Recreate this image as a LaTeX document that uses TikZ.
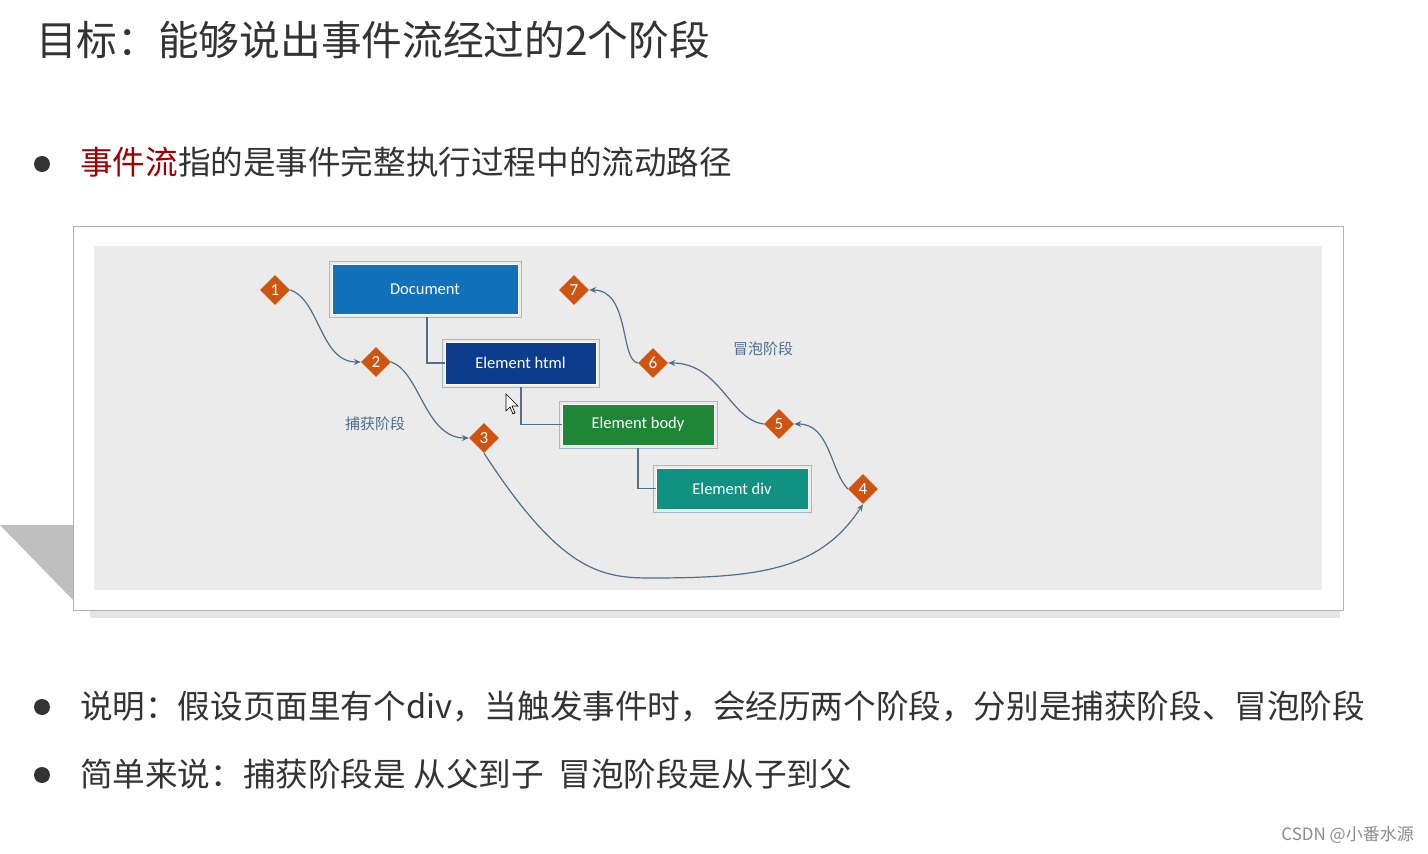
\documentclass[tikz,border=0pt]{standalone}
\usepackage{fontspec}
\setmainfont{Noto Sans CJK SC}
\newfontfamily\lat{Carlito}
\usetikzlibrary{shapes.geometric,arrows.meta}
\definecolor{cDoc}{HTML}{1172B9}
\definecolor{cHtml}{HTML}{0E3C8C}
\definecolor{cBody}{HTML}{1E8636}
\definecolor{cDiv}{HTML}{119182}
\definecolor{cDia}{HTML}{CF5410}
\definecolor{cLine}{HTML}{4F6F8C}
\definecolor{cTxt}{HTML}{333333}
\tikzset{
  box/.style={draw=white,line width=1pt,outer sep=0pt,minimum height=#1,text=white,font=\lat\fontsize{16.5}{18}\selectfont,inner sep=0pt},
  frm/.style={draw=cLine!50,line width=0.6pt},
  dia/.style={diamond,fill=cDia,minimum size=30pt,inner sep=0pt,text=white,font=\lat\fontsize{17}{18}\selectfont},
  flow/.style={draw=cLine,line width=1.2pt,-{Stealth[length=7pt,width=6pt]}},
  tree/.style={draw=cLine,line width=1.5pt},
  bul/.style={anchor=west,font=\fontsize{32.6}{38}\selectfont,text=cTxt,inner sep=0pt},
  lab/.style={font=\fontsize{15}{17}\selectfont,text=cLine}
}
\begin{document}
\begin{tikzpicture}[x=1pt,y=-1pt]
\useasboundingbox (0,0) rectangle (1428,854);
\fill[white] (0,0) rectangle (1428,854);
\node[anchor=west,inner sep=0pt,font=\fontsize{40.7}{46}\selectfont,text=cTxt] (title) at (36,40) {目标：能够说出事件流经过的2个阶段};
\fill[cTxt] (42,164) circle (8);
\node[bul] (b1) at (80,162) {\textcolor[HTML]{A00000}{事件流}指的是事件完整执行过程中的流动路径};
% shadow
\fill[black!25] (0,525) -- (73,525) -- (73,600) -- cycle;
\fill[black!10] (90,610) rectangle (1340,618);
\node[draw=black!30,line width=1pt,fill=white,minimum width=1270pt,minimum height=384pt,inner sep=0pt] (frame) at (708,418) {};
\node[fill=black!8,minimum width=1228pt,minimum height=344pt,inner sep=0pt] (panel) at (708,418) {};
% boxes
\draw[frm] (329,261) rectangle (521,317);
\node[box=50pt,fill=cDoc,minimum width=186pt] (doc) at (425,289) {Document};
\draw[frm] (442,339) rectangle (599,387);
\node[box=42pt,fill=cHtml,minimum width=151pt] (html) at (520.5,363) {Element html};
\draw[frm] (559,401) rectangle (717,448);
\node[box=41pt,fill=cBody,minimum width=152pt] (body) at (638,424.5) {Element body};
\draw[frm] (653,465) rectangle (811,512);
\node[box=41pt,fill=cDiv,minimum width=152pt] (div) at (732,488.5) {Element div};
\draw[tree] (427,317) |- (html.west);
\draw[tree] (521,387) |- (body.west);
\draw[tree] (638,448) |- (div.west);
% diamonds
\node[dia] (d1) at (275,290) {1};
\node[dia] (d2) at (376,362) {2};
\node[dia] (d3) at (484,438) {3};
\node[dia] (d4) at (863,489) {4};
\node[dia] (d5) at (779,424) {5};
\node[dia] (d6) at (653,363) {6};
\node[dia] (d7) at (574,290) {7};
\draw[flow] (d1.east) .. controls (320,300) and (320,362) .. (d2.west);
\draw[flow] (d2.east) .. controls (420,372) and (425,438) .. (d3.west);
\draw[flow] (d3.south) .. controls (560,570) and (600,578) .. (650,578) .. controls (760,578) and (820,570) .. (d4.south);
\draw[flow] (d4.west) .. controls (830,470) and (830,424) .. (d5.east);
\draw[flow] (d5.west) .. controls (730,420) and (720,363) .. (d6.east);
\draw[flow] (d6.west) .. controls (620,360) and (630,290) .. (d7.east);
\node[lab] (cap) at (375,424) {捕获阶段};
\node[lab] (bub) at (763,349) {冒泡阶段};
% cursor
\draw[black,fill=white,line width=0.6pt] (506,394) -- (506,411) -- (510,407) -- (513,414) -- (515,413) -- (512,406) -- (518,406) -- cycle;
\fill[cTxt] (42,707) circle (8);
\node[bul] (b2) at (80,706) {说明：假设页面里有个div，当触发事件时，会经历两个阶段，分别是捕获阶段、冒泡阶段};
\fill[cTxt] (42,775) circle (8);
\node[bul] (b3) at (80,774) {简单来说：捕获阶段是 从父到子\ \ 冒泡阶段是从子到父};
\node[anchor=east,inner sep=0pt,font=\fontsize{17}{19}\selectfont,text=black!45] (wm) at (1414,835) {CSDN @小番水源};
\end{tikzpicture}
\end{document}
